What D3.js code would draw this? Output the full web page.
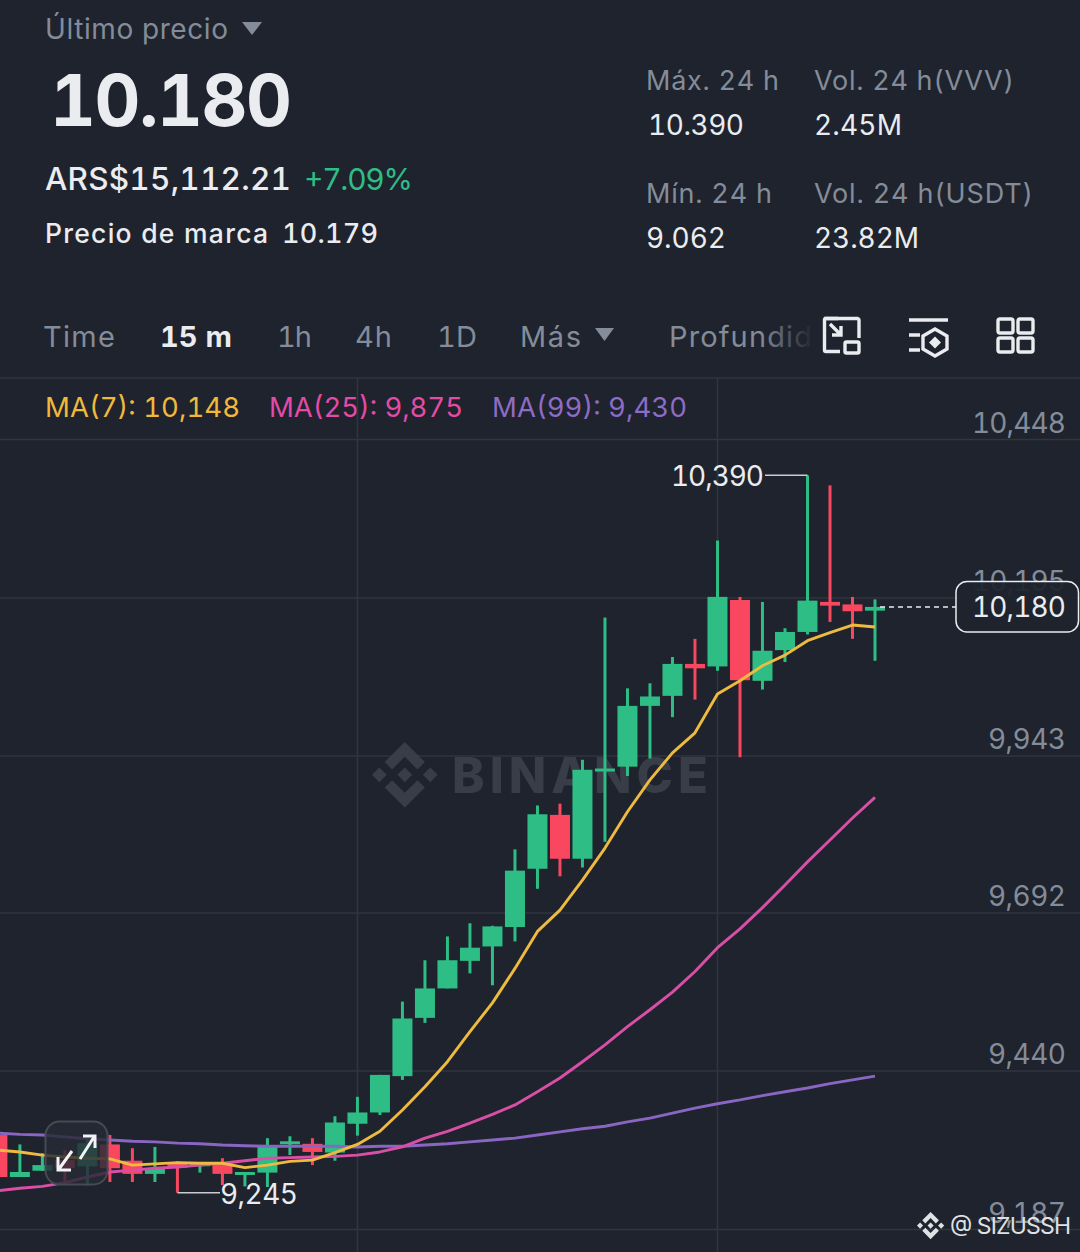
<!DOCTYPE html>
<html><head><meta charset="utf-8">
<script src="https://cdn.jsdelivr.net/npm/d3@7/dist/d3.min.js"></script>
<style>html,body{margin:0;padding:0;background:#1e232d;overflow:hidden}svg{display:block}text{font-family:Inter,"Noto Sans",sans-serif;font-variant-numeric:tabular-nums}</style>
</head><body><div id="c"></div>
<script>
const opens=[9337,9270,9280,9297,9287,9322,9296,9275,9292,9288,9293,9275,9277,9323,9323,9309,9355,9373,9431,9524,9571,9615,9638,9669,9762,9848,9778,9919,9925,10022,10038,10089,10085,10191,10062,10111,10140,10188,10184,10174];
const highs=[9337,9322,9308,9313,9337,9337,9316,9318,9295,9292,9300,9278,9332,9335,9332,9367,9398,9433,9550,9616,9654,9675,9671,9793,9863,9866,9936,10163,10050,10058,10100,10129,10286,10196,10188,10146,10390,10374,10196,10192];
const lows=[9270,9270,9280,9262,9257,9262,9262,9262,9245,9277,9257,9255,9254,9305,9289,9296,9336,9369,9425,9516,9571,9595,9576,9646,9730,9750,9764,9805,9910,9938,10004,10032,10078,9940,10048,10092,10136,10156,10129,10094];
const closes=[9270,9278,9289,9284,9324,9284,9275,9284,9285,9292,9275,9278,9318,9327,9310,9357,9373,9433,9523,9571,9616,9636,9670,9759,9849,9778,9920,9922,10022,10037,10089,10082,10196,10063,10110,10140,10190,10182,10173,10180];
const ma7=[9313,9310,9305,9302,9300,9299,9289,9291,9293,9292,9292,9285,9289,9295,9297,9309,9322,9343,9377,9414,9454,9502,9548,9603,9662,9696,9744,9795,9853,9904,9947,9979,10041,10062,10086,10103,10126,10139,10151,10148];
const ma25=[9248,9252,9255,9261,9270,9278,9281,9284,9286,9289,9292,9296,9300,9301,9302,9303,9305,9310,9318,9332,9343,9356,9370,9385,9406,9428,9454,9481,9510,9537,9565,9598,9636,9666,9700,9736,9773,9808,9843,9876];
const ma99=[9340,9338,9337,9334,9331,9329,9327,9326,9324,9323,9321,9320,9319,9319,9319,9319,9318,9319,9319,9321,9323,9326,9329,9332,9337,9342,9347,9351,9358,9364,9372,9380,9387,9393,9400,9406,9412,9419,9425,9431];
const priceTicks=[10448,10195,9943,9692,9440,9187];
const verticalAt=[16,32];
const lastPrice=10180, peak=10390, trough=9245;
const peakIndex=36, troughIndex=8;

const W=1080,H=1252,BG="#1e232d";
const UP="#2ebd85",DOWN="#f8475e",GRID="#30353f",GREY="#848c99",WHITE="#eaecef";
const svg=d3.select("#c").append("svg").attr("width",W).attr("height",H);
svg.append("rect").attr("width",W).attr("height",H).attr("fill",BG);
const defs=svg.append("defs");
const fade=defs.append("linearGradient").attr("id","fade").attr("gradientUnits","userSpaceOnUse").attr("x1",760).attr("x2",812).attr("y1",0).attr("y2",0);
fade.append("stop").attr("offset",0).attr("stop-color",GREY);
fade.append("stop").attr("offset",1).attr("stop-color",GREY).attr("stop-opacity",0.05);

const x=d3.scaleLinear().domain([0,39]).range([-2.6,875]);
const y=d3.scaleLinear().domain([10448,9187]).range([439,1229]);

function t(s,px,py,size,fill,weight,len,anchor){
  const e=svg.append("text").text(s).attr("x",px).attr("y",py).attr("font-size",size).attr("fill",fill)
   .attr("font-weight",weight||400).attr("text-anchor",anchor||"start");
  if(len) e.attr("textLength",len).attr("lengthAdjust","spacing");
  return e;
}
// header
t("Último precio",45,39,28,GREY,400,183);
svg.append("path").attr("d","M242 22H262L252 35Z").attr("fill",GREY);
t("10.180",50,126,71,WHITE,700,242);
t("ARS$15,112.21",45,190,31.5,WHITE,500,246);
t("+7.09%",304,190,30,UP,400,109);
t("Precio de marca",45,243,26.5,WHITE,500,223);
t("10.179",282,243,27,WHITE,500,96);
t("Máx. 24 h",646,90,27,GREY,400,133);
t("10.390",648,135,28,WHITE,400,96);
t("Vol. 24 h(VVV)",814,90,27,GREY,400,200);
t("2.45M",814,135,28,WHITE,400,88);
t("Mín. 24 h",646,203,27,GREY,400,126);
t("9.062",646,248,28,WHITE,400,80);
t("Vol. 24 h(USDT)",814,203,27,GREY,400,219);
t("23.82M",814,248,28,WHITE,400,105);
// tabs
t("Time",43,347,29,GREY,400,72);
t("15 m",160,347,29,WHITE,700,72);
t("1h",277,347,29,GREY,400,35);
t("4h",355,347,29,GREY,400,37);
t("1D",437,347,29,GREY,400,40);
t("Más",520,347,29,GREY,400,61);
svg.append("path").attr("d","M595 328H614L604.5 341Z").attr("fill",GREY);
t("Profundid",669,347,29,"url(#fade)",400,143);
// icons
const ic=svg.append("g").attr("fill","none").attr("stroke",WHITE).attr("stroke-width",3.4);
ic.append("path").attr("d","M838 318.5H826a1.5 1.5 0 0 0 -1.5 1.5V350a1.5 1.5 0 0 0 1.5 1.5H840M858 318.5a1.5 1.5 0 0 1 1 1.5V338M830 324L841 335M841 326V335H832");
ic.append("path").attr("d","M824 318.5H858.5");
ic.append("rect").attr("x",845).attr("y",342).attr("width",14).attr("height",11).attr("rx",1.5);
ic.append("path").attr("d","M909 320H948M909 335H920M909 350H920");
ic.append("path").attr("d","M935 329L947 336V349L935 356L923 349V336Z");
svg.append("path").attr("d","M935 336.5L941 342.5L935 348.5L929 342.5Z").attr("fill",WHITE);
[[998,319],[1018,319],[998,338],[1018,338]].forEach(p=>ic.append("rect").attr("x",p[0]).attr("y",p[1]).attr("width",15).attr("height",14).attr("rx",2));
// legend
t("MA(7): 10,148",45,417,27.5,"#f0b93a",400,195);
t("MA(25): 9,875",269,417,27.5,"#e44ba6",400,194);
t("MA(99): 9,430",492,417,27.5,"#8e6bc6",400,195);

// grid & axis
svg.append("line").attr("x1",0).attr("x2",W).attr("y1",378).attr("y2",378).attr("stroke",GRID).attr("stroke-width",1.5);
svg.append("g").selectAll("line").data(verticalAt).join("line")
  .attr("x1",d=>x(d)).attr("x2",d=>x(d)).attr("y1",378).attr("y2",H).attr("stroke",GRID).attr("stroke-width",1.5);
const axis=d3.axisRight(y).tickValues(priceTicks).tickFormat(d3.format(",")).tickSize(W).tickPadding(0);
const ag=svg.append("g").call(axis);
ag.select(".domain").remove();
ag.selectAll("line").attr("stroke",GRID).attr("stroke-width",1.5);
ag.selectAll("text").attr("x",1066).attr("dy",-7).attr("text-anchor","end").attr("font-size",28).attr("fill",GREY)
  .attr("textLength",d=>d>=10000?94:78).attr("lengthAdjust","spacing")
  .style("font-family","Inter,'Noto Sans',sans-serif");

// watermark
const BNB="M9.8 13.4L16 7.2l6.2 6.2 3.6-3.6L16 0 6.2 9.8zM0 16l3.6-3.6 3.6 3.6-3.6 3.6zM12.4 16L16 12.4 19.6 16 16 19.6zM24.8 16l3.6-3.6 3.6 3.6-3.6 3.6zM9.8 18.6L16 24.8l6.2-6.2 3.6 3.6L16 32 6.2 22.2z";
svg.append("path").attr("d",BNB).attr("transform","translate(372,742) scale(2.05)").attr("fill","#383d48");
t("BINANCE",452,793,49,"#383d48",800,256);

// candles
const idx=d3.range(opens.length);
const candles=svg.append("g");
const bw=20;
candles.selectAll("line").data(idx).join("line")
  .attr("x1",i=>x(i)).attr("x2",i=>x(i)).attr("y1",i=>y(highs[i])).attr("y2",i=>y(lows[i]))
  .attr("stroke",i=>closes[i]>=opens[i]?UP:DOWN).attr("stroke-width",3);
candles.selectAll("rect").data(idx).join("rect")
  .attr("x",i=>x(i)-bw/2).attr("width",bw)
  .attr("y",i=>y(Math.max(opens[i],closes[i])))
  .attr("height",i=>Math.max(3,Math.abs(y(opens[i])-y(closes[i]))))
  .attr("fill",i=>closes[i]>=opens[i]?UP:DOWN);

// MA lines
const line=d3.line().x((d,i)=>x(i)).y(d=>y(d));
[[ma99,"#8a66c2"],[ma25,"#d94fa8"],[ma7,"#eebb40"]].forEach(s=>{
  svg.append("path").attr("d",line(s[0])).attr("fill","none").attr("stroke",s[1]).attr("stroke-width",2.9).attr("stroke-linejoin","round");
});

// annotations
const note="#c9ccd1";
svg.append("path").attr("d",`M${x(peakIndex)} ${y(peak)}H765`).attr("stroke",note).attr("stroke-width",1.5).attr("fill","none");
t(d3.format(",")(peak),671,486,28,WHITE,400,93);
svg.append("path").attr("d",`M${x(troughIndex)} ${y(trough)}H220`).attr("stroke",note).attr("stroke-width",1.5).attr("fill","none");
t(d3.format(",")(trough),220,1204,28,WHITE,400,78);

// last price
svg.append("line").attr("x1",x(39)+5).attr("x2",956).attr("y1",y(lastPrice)).attr("y2",y(lastPrice))
  .attr("stroke",WHITE).attr("stroke-width",1.5).attr("stroke-dasharray","5 4");
svg.append("rect").attr("x",956).attr("y",581.5).attr("width",122.5).attr("height",50.5).attr("rx",11)
  .attr("fill",BG).attr("fill-opacity",0.93).attr("stroke",WHITE).attr("stroke-width",1.5);
t(d3.format(",")(lastPrice),972,617,28,WHITE,400,94);

// overlay button
svg.append("rect").attr("x",45.5).attr("y",1121.5).attr("width",62).attr("height",63).attr("rx",14)
  .attr("fill","#262b36").attr("fill-opacity",0.82).attr("stroke","#454a54").attr("stroke-width",2);
svg.append("path").attr("d","M80 1159L94 1137M83 1136H95V1148M72 1151L59 1169M58 1157V1170H71")
  .attr("fill","none").attr("stroke","#f2f3f5").attr("stroke-width",3);

// credit
svg.append("path").attr("d",BNB).attr("transform","translate(917,1212) scale(0.85)").attr("fill","#dfe1e4");
t("@ SIZUSSH",950,1234,23,"#dfe1e4",400,121);
</script></body></html>
